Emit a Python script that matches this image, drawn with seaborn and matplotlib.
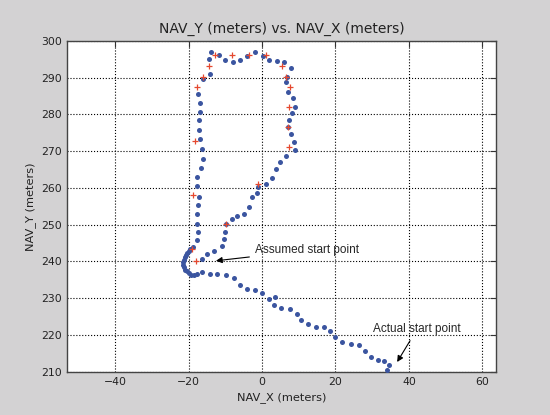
import matplotlib
matplotlib.use('Agg')
import matplotlib.pyplot as plt
import seaborn as sns
import pandas as pd

# track points (path order, from the actual start)
nav_x = [34.0, 34.7, 33.3, 31.5, 29.7, 28.0, 26.4, 24.2, 21.9, 20.0, 18.6, 16.8, 14.6, 12.5,
         10.7, 9.4, 7.6, 5.2, 3.2, 3.5, 1.9, 0.1, -2.0, -4.2, -6.0, -7.7, -9.9, -12.2, -14.2,
         -16.3, -17.6, -18.6, -19.4, -20.0, -20.5, -20.9, -21.2, -21.4, -21.4, -21.3, -21.0,
         -20.7, -20.3, -19.9, -19.5, -18.7, -17.8, -17.5, -17.7, -17.6, -17.5, -17.2, -17.8,
         -17.6, -16.6, -16.0, -16.3, -16.8, -17.2, -17.2, -16.8, -16.8, -17.5, -16.1, -14.1,
         -14.5, -14.0, -11.8, -10.1, -8.0, -6.0, -4.1, -2.0, 0.2, 2.0, 4.0, 6.0, 7.8, 6.9,
         6.6, 7.1, 8.4, 8.9, 8.2, 7.3, 7.1, 8.0, 8.6, 8.9, 6.4, 4.8, 3.7, 2.8, 1.0, -1.0,
         -1.3, -2.8, -3.6, -5.0, -6.8, -8.1, -9.7, -10.2, -10.4, -10.8, -13.1, -14.9, -16.3]
nav_y = [210.5, 211.7, 212.8, 213.2, 213.9, 215.7, 217.2, 217.5, 218.0, 219.4, 221.1, 222.3,
         222.3, 222.9, 224.2, 225.8, 227.2, 227.4, 228.1, 230.3, 229.9, 231.4, 232.2, 232.4,
         233.5, 235.5, 236.2, 236.5, 236.7, 237.0, 236.6, 236.2, 236.4, 236.8, 237.3, 237.8,
         238.4, 239.1, 239.8, 240.5, 241.2, 241.8, 242.4, 242.9, 243.4, 244.0, 245.8, 248.0,
         250.3, 252.8, 255.3, 257.6, 260.6, 262.9, 265.3, 267.8, 270.6, 273.3, 275.7, 278.5,
         280.7, 283.2, 285.5, 289.6, 290.9, 295.1, 296.9, 296.2, 294.8, 294.2, 294.8, 296.0,
         296.9, 296.0, 294.8, 294.5, 294.2, 292.7, 290.3, 288.7, 286.2, 284.4, 282.1, 280.3,
         278.5, 276.6, 274.6, 272.5, 270.3, 268.8, 267.1, 265.1, 262.8, 261.0, 260.3, 258.5,
         257.5, 254.9, 253.0, 252.4, 251.5, 250.3, 248.0, 246.2, 244.2, 242.8, 241.9, 240.8]

# red fixes
fix_x = [-12.9, -8.1, -3.6, 1.0, -14.5, -16.1, -17.8, 5.5, 6.6, 7.5, 7.3, -18.3, -18.9,
         7.1, 7.3, -1.0, -9.7, -19.2, -18.1]
fix_y = [296.2, 296.2, 296.2, 296.2, 293.3, 290.3, 287.5, 293.3, 290.3, 287.4, 282.1, 272.8,
         258.0, 276.6, 271.2, 261.0, 250.3, 243.5, 240.0]

track = pd.DataFrame({'x': nav_x, 'y': nav_y})
fixes = pd.DataFrame({'x': fix_x, 'y': fix_y})

sns.set_style('white')
plt.rcParams['font.family'] = ['DejaVu Sans']

fig = plt.figure(figsize=(5.5, 4.15), dpi=100, facecolor='#d3d2d3')
ax = fig.add_axes([0.1218, 0.1043, 0.78, 0.797])

sns.scatterplot(data=track, x='x', y='y', ax=ax, color='#3b55a0', s=13,
                marker='o', linewidth=0, zorder=3)
sns.scatterplot(data=fixes, x='x', y='y', ax=ax, color='#e5482f', s=22,
                marker='+', linewidth=0.9, zorder=4)

ax.set_xlim(-53.1, 63.7)
ax.set_ylim(210, 300)
ax.set_xticks([-40, -20, 0, 20, 40, 60])
ax.set_yticks(range(210, 301, 10))
ax.grid(True, color='black', linestyle=':', linewidth=0.8)
ax.set_axisbelow(True)
for s in ax.spines.values():
    s.set_color('#444444')
    s.set_linewidth(1)
ax.tick_params(direction='in', length=4, labelsize=7.8, colors='#333333',
               top=True, right=True)
ax.tick_params(labelcolor='#222222')

ax.set_title('NAV_Y (meters) vs. NAV_X (meters)', fontsize=10, color='#222222')
ax.set_xlabel('NAV_X (meters)', fontsize=8.2, color='#222222')
ax.set_ylabel('NAV_Y (meters)', fontsize=8.2, color='#222222')

arrow = dict(arrowstyle='-|>', color='black', lw=0.8, mutation_scale=9)
ax.annotate('Assumed start point', xy=(-13.3, 240.1), xytext=(-1.8, 242.2),
            fontsize=8.5, family='Liberation Sans', arrowprops=arrow)
ax.annotate('Actual start point', xy=(36.4, 212.0), xytext=(30.3, 220.8),
            fontsize=8.5, family='Liberation Sans', arrowprops=arrow)

fig.savefig('out.png', dpi=100, facecolor=fig.get_facecolor())
